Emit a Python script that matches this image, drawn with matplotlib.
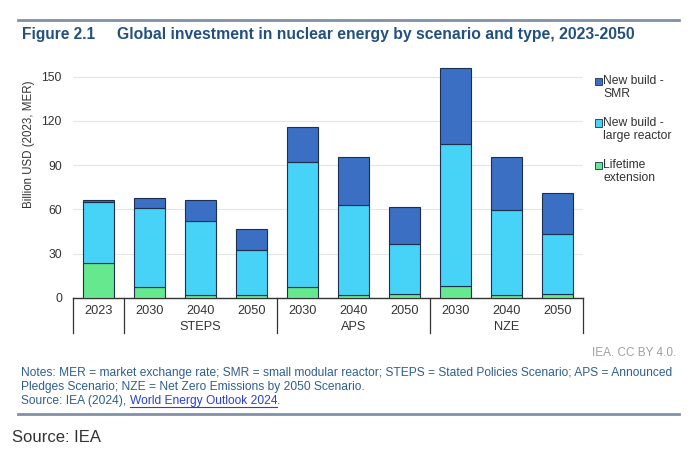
import matplotlib
matplotlib.use('Agg')
import numpy as np
from matplotlib import pyplot as plt
from matplotlib.patches import Rectangle

plt.rcParams['font.family'] = ['Liberation Sans', 'DejaVu Sans']

years = ['2023', '2030', '2040', '2050', '2030', '2040', '2050', '2030', '2040', '2050']
groups = ['STEPS', 'APS', 'NZE']
lifetime = [23.5, 7, 2, 1.5, 7.5, 2, 2.5, 8, 2, 2.5]
large = [41.7, 54, 50, 31, 84.5, 61, 34, 96, 57.5, 41]
smr = [1, 7, 14.5, 14, 24, 32.5, 25, 52, 36, 27.5]
series_names = ['Lifetime\nextension', 'New build -\nlarge reactor', 'New build -\nSMR']
colors = ['#66e88e', '#47d3f8', '#3a6fc4']

W, H = 696, 455
fig = plt.figure(figsize=(W / 100, H / 100), dpi=100)

ax = fig.add_axes([73 / W, (H - 297.7) / H, 510 / W, 235.7 / H])
x = np.arange(len(years))
bottom = np.zeros(len(years))
for vals, c in zip([lifetime, large, smr], colors):
    ax.bar(x, vals, 0.59, bottom=bottom, color=c, edgecolor='#1c2f4f', linewidth=0.8, zorder=3)
    bottom += np.array(vals)

ax.set_xlim(-0.5, 9.5)
ax.set_ylim(0, 160)
ax.set_yticks([0, 30, 60, 90, 120, 150])
ax.grid(axis='y', color='#e4e4e4', linewidth=0.8, zorder=0)
for s in ['top', 'right', 'left']:
    ax.spines[s].set_visible(False)
ax.spines['bottom'].set_color('#333333')
ax.spines['bottom'].set_linewidth(1.0)
ax.tick_params(axis='both', length=0, colors='#333333')
ax.tick_params(axis='x', pad=5, labelsize=9.2)
ax.tick_params(axis='y', pad=8, labelsize=8.8)
ax.set_xticks(x)
ax.set_xticklabels(years)
ax.set_ylabel('Billion USD (2023, MER)', fontsize=8.3, color='#333333')
ax.yaxis.set_label_coords(-0.074, (297.7 - 144) / 235.7)

# group separators under the axis
trans = ax.get_xaxis_transform()
for xv in [-0.5, 0.5, 3.5, 6.5, 9.5]:
    ax.plot([xv, xv], [0, -0.15], transform=trans, color='#333333', lw=0.9, clip_on=False)
for xc, g in zip([2, 5, 8], groups):
    ax.text(xc, -0.125, g, transform=trans, ha='center', va='center', fontsize=9.2, color='#333333')

# legend, drawn by hand so the swatch sits on the first text line
for i, (name, c) in enumerate(zip(series_names[::-1], colors[::-1])):
    yc = 81 + 42 * i
    fig.add_artist(Rectangle((594.5 / W, (H - yc - 3.5) / H), 7 / W, 7 / H, facecolor=c,
                             edgecolor='#1c2f4f', linewidth=0.6))
    fig.text(603 / W, (H - yc + 6) / H, name, fontsize=8.7, color='#333333', va='top', linespacing=1.15)

# header and footer
title_c = '#23507f'
fig.add_artist(plt.Line2D([18 / W, 679 / W], [(H - 20) / H] * 2, color='#8091a8', lw=2))
fig.text(22 / W, (H - 35) / H, 'Figure 2.1', fontsize=11.2, fontweight='bold', color=title_c, va='center')
fig.text(117 / W, (H - 35) / H, 'Global investment in nuclear energy by scenario and type, 2023-2050',
         fontsize=11.3, fontweight='bold', color=title_c, va='center')

fig.text(676 / W, (H - 353) / H, 'IEA. CC BY 4.0.', fontsize=8.5, color='#a0a0a0', ha='right', va='center')
note_c = '#2f5f8f'
fs = 8.65
fig.text(21 / W, (H - 373) / H, 'Notes: MER = market exchange rate; SMR = small modular reactor; '
         'STEPS = Stated Policies Scenario; APS = Announced', fontsize=fs, color=note_c, va='center')
fig.text(21 / W, (H - 387) / H, 'Pledges Scenario; NZE = Net Zero Emissions by 2050 Scenario.',
         fontsize=fs, color=note_c, va='center')
src = fig.text(21 / W, (H - 401) / H, 'Source: IEA (2024), ', fontsize=fs, color=note_c, va='center')
fig.canvas.draw()
bb = src.get_window_extent()
link = fig.text(bb.x1 / W, (H - 401) / H, 'World Energy Outlook 2024', fontsize=fs, color='#2a3fd6', va='center')
fig.canvas.draw()
lb = link.get_window_extent()
fig.add_artist(plt.Line2D([lb.x0 / W, lb.x1 / W], [(lb.y0 + 0.5) / H] * 2, color='#2a3fd6', lw=0.8))
fig.text(lb.x1 / W, (H - 401) / H, '.', fontsize=fs, color=note_c, va='center')
fig.add_artist(plt.Line2D([18 / W, 679 / W], [(H - 414) / H] * 2, color='#8091a8', lw=2))
fig.text(12 / W, (H - 437) / H, 'Source: IEA', fontsize=12, color='#333333', va='center')

fig.savefig('out.png', dpi=100)
